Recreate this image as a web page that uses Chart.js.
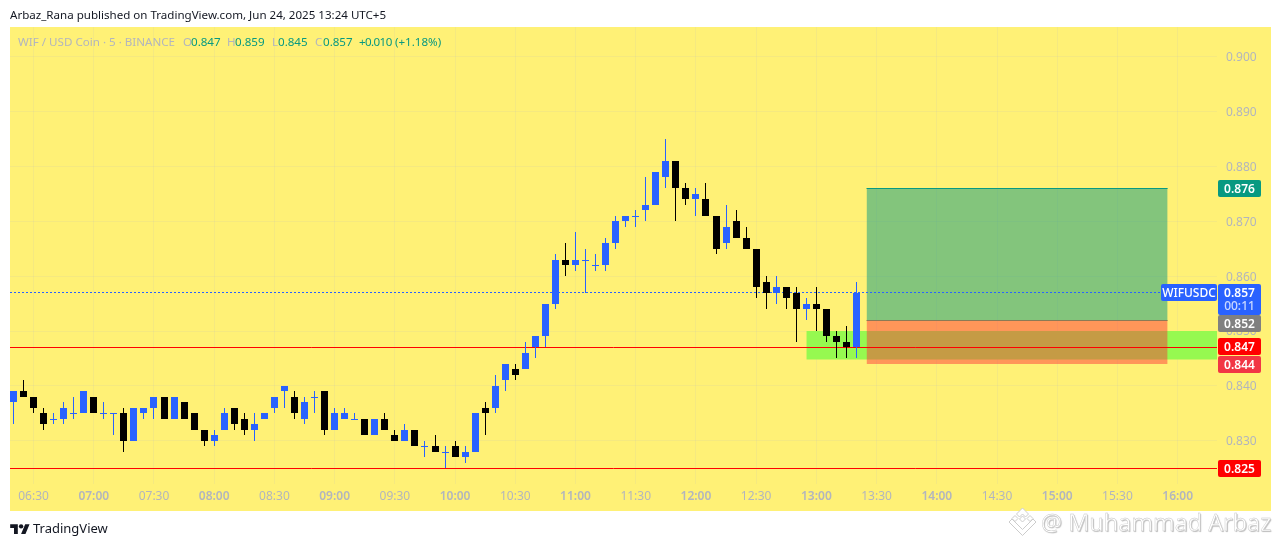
<!DOCTYPE html>
<html>
<head>
<meta charset="utf-8">
<title>WIF / USD Coin</title>
<script src="https://cdn.jsdelivr.net/npm/chart.js@4"></script>
<style>
  html, body { margin: 0; padding: 0; background: #fff; width: 1281px; height: 546px; overflow: hidden; }
  #chart { position: absolute; left: 0; top: 0; }
  .t { position: absolute; white-space: nowrap; font-family: "Noto Sans", sans-serif; line-height: 14px; }
  .head { top: 8px; left: 10px; font-size: 11.57px; color: #131722; }
  .leg { top: 35px; font-size: 11.6px; color: #b2b5be; }
  .up { color: #089981; }
  .tv { top: 521px; left: 33px; font-size: 13px; color: #131722; }
  .mark { top: 506px; left: 1041px; font-size: 23.5px; line-height: 32px; color: #fff;
          -webkit-text-stroke: 0.4px #c4c4c4; text-shadow: 1px 1px 1px #bbb; font-family: "Open Sans", sans-serif; }
  svg { position: absolute; }
</style>
</head>
<body>
<canvas id="chart" width="1281" height="546"></canvas>

<div class="t head">Arbaz_Rana published on TradingView.com, Jun 24, 2025 13:24 UTC+5</div>
<div class="t leg" style="left:18px">WIF / USD Coin · 5 · BINANCE</div>
<div class="t leg" style="left:183px">O</div><div class="t leg up" style="left:191px">0.847</div>
<div class="t leg" style="left:227px">H</div><div class="t leg up" style="left:235px">0.859</div>
<div class="t leg" style="left:272px">L</div><div class="t leg up" style="left:278px">0.845</div>
<div class="t leg" style="left:315px">C</div><div class="t leg up" style="left:323px">0.857</div>
<div class="t leg up" style="left:359px;letter-spacing:-0.6px">+0.010</div>
<div class="t leg up" style="left:395px">(+1.18%)</div>

<svg style="left:10px;top:522px" width="20" height="12" viewBox="0 0 36 22">
  <path fill="#131722" d="M14 22H7V11H0V4h14v18zM28 22h-8l7.5-18h8L28 22z"/><circle fill="#131722" cx="20" cy="8" r="4"/>
</svg>
<div class="t tv">TradingView</div>

<svg style="left:1007px;top:506px" width="31" height="32" viewBox="0 0 31 32">
  <g fill="#fff" stroke="#ccc" stroke-width="1">
    <path d="M15.5 2l6 6-3 3-3-3-3 3-3-3z"/>
    <path d="M5 12.5l3-3 3 3-3 3z"/>
    <path d="M20 12.5l3-3 3 3-3 3z"/>
    <path d="M15.5 10l3 3-3 3-3-3z"/>
    <path d="M2 16l3-3 10.5 10.5L26 13l3 3-13.5 13.5z"/>
  </g>
</svg>
<div class="t mark">@ Muhammad Arbaz</div>

<script>
// 5 minute candles
const times = ['06:20','06:25','06:30','06:35','06:40','06:45','06:50','06:55','07:00','07:05','07:10','07:15','07:20','07:25','07:30','07:35','07:40','07:45','07:50','07:55','08:00','08:05','08:10','08:15','08:20','08:25','08:30','08:35','08:40','08:45','08:50','08:55','09:00','09:05','09:10','09:15','09:20','09:25','09:30','09:35','09:40','09:45','09:50','09:55','10:00','10:05','10:10','10:15','10:20','10:25','10:30','10:35','10:40','10:45','10:50','10:55','11:00','11:05','11:10','11:15','11:20','11:25','11:30','11:35','11:40','11:45','11:50','11:55','12:00','12:05','12:10','12:15','12:20','12:25','12:30','12:35','12:40','12:45','12:50','12:55','13:00','13:05','13:10','13:15','13:20'];
const opens = [
    .837,.839,.838,.835,.834,.834,.835,.835,.838,.835,
    .835,.835,.830,.835,.836,.838,.834,.837,.835,.832,
    .830,.832,.836,.834,.832,.834,.836,.839,.838,.834,
    .838,.839,.832,.834,.834,.834,.831,.834,.831,.830,
    .832,.829,.829,.828,.829,.827,.828,.836,.836,.841,
    .843,.843,.847,.849,.855,.863,.862,.863,.862,.862,
    .866,.870,.871,.872,.873,.878,.881,.876,.874,.874,
    .871,.866,.870,.867,.865,.859,.857,.858,.857,.854,
    .855,.854,.849,.848,.847];
const highs = [
    .839,.841,.838,.836,.835,.837,.838,.839,.838,.837,
    .835,.836,.836,.836,.838,.838,.838,.837,.835,.832,
    .832,.836,.836,.835,.835,.835,.838,.840,.839,.838,
    .839,.839,.836,.836,.835,.834,.834,.835,.832,.833,
    .832,.830,.831,.829,.830,.829,.835,.837,.842,.844,
    .844,.848,.849,.855,.864,.866,.868,.865,.864,.867,
    .871,.871,.872,.878,.879,.885,.881,.877,.876,.877,
    .871,.873,.872,.869,.865,.860,.860,.858,.858,.856,
    .858,.854,.850,.851,.859];
const lows = [
    .833,.838,.835,.832,.833,.833,.834,.835,.835,.834,
    .831,.828,.830,.834,.834,.834,.834,.834,.832,.829,
    .829,.832,.832,.831,.830,.834,.835,.836,.834,.833,
    .835,.831,.832,.834,.834,.831,.831,.832,.830,.830,
    .829,.827,.828,.825,.827,.826,.828,.831,.835,.839,
    .841,.843,.845,.847,.854,.860,.861,.857,.861,.861,
    .865,.869,.869,.870,.873,.876,.870,.873,.871,.871,
    .864,.865,.867,.865,.856,.854,.855,.854,.848,.852,
    .850,.848,.845,.845,.845];
const closes = [
    .839,.838,.836,.833,.834,.836,.835,.839,.835,.835,
    .835,.830,.836,.836,.838,.834,.838,.834,.832,.830,
    .831,.835,.833,.832,.833,.835,.838,.840,.835,.837,
    .838,.832,.835,.835,.834,.831,.834,.832,.830,.832,
    .829,.829,.828,.828,.827,.828,.835,.835,.840,.844,
    .842,.846,.849,.855,.863,.862,.863,.863,.862,.866,
    .870,.871,.871,.873,.879,.881,.876,.874,.875,.871,
    .865,.869,.867,.865,.858,.857,.858,.856,.854,.855,
    .854,.849,.848,.847,.857];

const xTickLabels = ['06:30','07:00','07:30','08:00','08:30','09:00','09:30','10:00','10:30','11:00','11:30','12:00','12:30','13:00','13:30','14:00','14:30','15:00','15:30','16:00'];
const yTickValues = [.83,.84,.85,.86,.87,.88,.89,.90];

// drawn levels and position tool
const supportLevel = .825;
const entryLevel = .847;
const lastPrice = .857;
const targetPrice = .876;
const entryPrice = .852;
const stopPrice = .844;
const zoneTop = .850;
const zoneBottom = .8448;

const tagLabels = ['0.876','0.857','0.852','0.847','0.844','0.825'];
const tagPrices = [.876,.857,.852,.847,.844,.825];

const toMinutes = s => parseInt(s.slice(0, 2)) * 60 + parseInt(s.slice(3));
const xs = times.map(toMinutes);
const xMin = 378.26, xMax = 979.6;
const toolStart = toMinutes('13:25'), toolEnd = toMinutes('15:55'), zoneStart = toMinutes('12:55');

const BLUE = '#2962ff', BLACK = '#000000', GREY = '#b2b5be';
const candleColor = closes.map((c, i) => c >= opens[i] ? BLUE : BLACK);

function levelLine(y, color, order, x0, x1, extra) {
    return Object.assign({
        type: 'line',
        data: [{ x: x0, y: y }, { x: x1, y: y }],
        borderColor: color,
        borderWidth: 1,
        pointRadius: 0,
        fill: false,
        order: order
    }, extra || {});
}

// pane background
const backgroundPlugin = {
    id: 'paneBackground',
    beforeDraw(chart) {
        const c = chart.ctx;
        c.save();
        c.fillStyle = '#fff';
        c.fillRect(0, 0, 1281, 546);
        c.fillStyle = '#fff176';
        c.fillRect(10, 27, 1261, 484);
        c.restore();
    }
};

// snap marks to whole pixels, the reference is crisp
const snapPlugin = {
    id: 'snap',
    afterDatasetsUpdate(chart) {
        chart.getSortedVisibleDatasetMetas().forEach(meta => {
            meta.data.forEach(el => {
                if (meta.type === 'bar') {
                    el.x = Math.floor(el.x) + 0.5;
                    const top = Math.round(Math.min(el.y, el.base));
                    let bottom = Math.round(Math.max(el.y, el.base));
                    if (bottom === top) bottom = top + 1;
                    el.y = top;
                    el.base = bottom;
                } else {
                    el.y = Math.floor(el.y) + 0.5;
                }
            });
        });
        // price labels sit a pixel lower than the canvas middle baseline
        chart.scales.y.getLabelItems().forEach(it => { it.options.translation[1] += 1; });
    }
};

// price tags on the axis
const tagColors = ['#089981', BLUE, '#808080', '#ff0000', '#f23645', '#ff0000'];
const tagShift = [0, -1, 3, -1, 0, 0];
const tagPlugin = {
    id: 'priceTags',
    afterDraw(chart) {
        const c = chart.ctx, y = chart.scales.y;
        c.save();
        c.textBaseline = 'middle';
        c.textAlign = 'center';
        c.font = '600 12px "Noto Sans"';
        tagPrices.forEach((p, i) => {
            const mid = Math.round(y.getPixelForValue(p)) + tagShift[i];
            const h = tagLabels[i] === '0.857' ? 31 : 17;
            c.fillStyle = tagColors[i];
            c.beginPath();
            c.roundRect(1218, mid - 8, 43, h, 2);
            c.fill();
            c.fillStyle = '#fff';
            c.fillText(tagLabels[i], 1239.5, mid + 1.5);
            if (tagLabels[i] === '0.857') {
                c.fillStyle = BLUE;
                c.beginPath();
                c.roundRect(1161, mid - 8, 56, 17, 2);
                c.fill();
                c.fillStyle = '#fff';
                c.font = '500 12px "Noto Sans"';
                c.fillText('WIFUSDC', 1189, mid + 1.5);
                c.fillStyle = 'rgba(255,255,255,0.75)';
                c.fillText('00:11', 1239.5, mid + 15);
                c.font = '600 12px "Noto Sans"';
            }
        });
        c.restore();
    }
};

new Chart(document.getElementById('chart').getContext('2d'), {
    type: 'bar',
    data: {
        datasets: [
            levelLine(zoneBottom, 'rgba(0,0,0,0)', 9, zoneStart, xMax, { fill: { value: zoneTop }, backgroundColor: '#96f950' }),
            levelLine(targetPrice, '#089981', 8, toolStart, toolEnd, { fill: { value: entryPrice }, backgroundColor: 'rgba(8,153,129,0.5)' }),
            levelLine(entryPrice, '#8c7a55', 7, toolStart, toolEnd, { fill: { value: stopPrice }, backgroundColor: 'rgba(255,39,56,0.45)' }),
            levelLine(entryLevel, '#ff0000', 6, xMin, xMax),
            levelLine(supportLevel, '#ff0000', 6, xMin, xMax),
            levelLine(lastPrice, BLUE, 5, xMin, xMax, { borderDash: [2, 2] }),
            {
                label: 'wicks',
                data: xs.map((x, i) => ({ x: x, y: [lows[i], highs[i]] })),
                backgroundColor: candleColor,
                barThickness: 1,
                grouped: false,
                inflateAmount: 0,
                order: 2
            },
            {
                label: 'bodies',
                data: xs.map((x, i) => ({ x: x, y: [opens[i], closes[i]] })),
                backgroundColor: candleColor,
                barThickness: 7,
                grouped: false,
                inflateAmount: 0,
                order: 1
            }
        ]
    },
    options: {
        responsive: false,
        animation: false,
        devicePixelRatio: 1,
        layout: { padding: { left: 10, top: 27, right: 10, bottom: 35 } },
        plugins: { legend: { display: false }, tooltip: { enabled: false }, title: { display: false } },
        scales: {
            x: {
                type: 'linear',
                offset: false,
                min: xMin,
                max: xMax,
                afterFit(s) { s.height = 27; },
                afterBuildTicks(s) { s.ticks = xTickLabels.map(l => ({ value: toMinutes(l) })); },
                border: { display: false },
                grid: { offset: false, color: 'rgba(190,190,190,0.15)', drawTicks: false },
                ticks: {
                    autoSkip: false,
                    maxRotation: 0,
                    padding: 5,
                    color: GREY,
                    font: ctx => ({ family: 'Noto Sans', size: 12, weight: ctx.tick && ctx.tick.value % 60 === 0 ? '600' : '400' }),
                    callback: v => xTickLabels[xTickLabels.findIndex(l => toMinutes(l) === v)]
                }
            },
            y: {
                position: 'right',
                min: .82211,
                max: .90542,
                afterFit(s) { s.width = 54; },
                afterBuildTicks(s) { s.ticks = yTickValues.map(v => ({ value: v })); },
                border: { display: false },
                grid: { color: 'rgba(190,190,190,0.15)', drawTicks: false },
                ticks: {
                    padding: 9,
                    color: GREY,
                    font: { family: 'Noto Sans', size: 12 },
                    callback: v => v.toFixed(3)
                }
            }
        }
    },
    plugins: [backgroundPlugin, snapPlugin, tagPlugin]
});
</script>
</body>
</html>
